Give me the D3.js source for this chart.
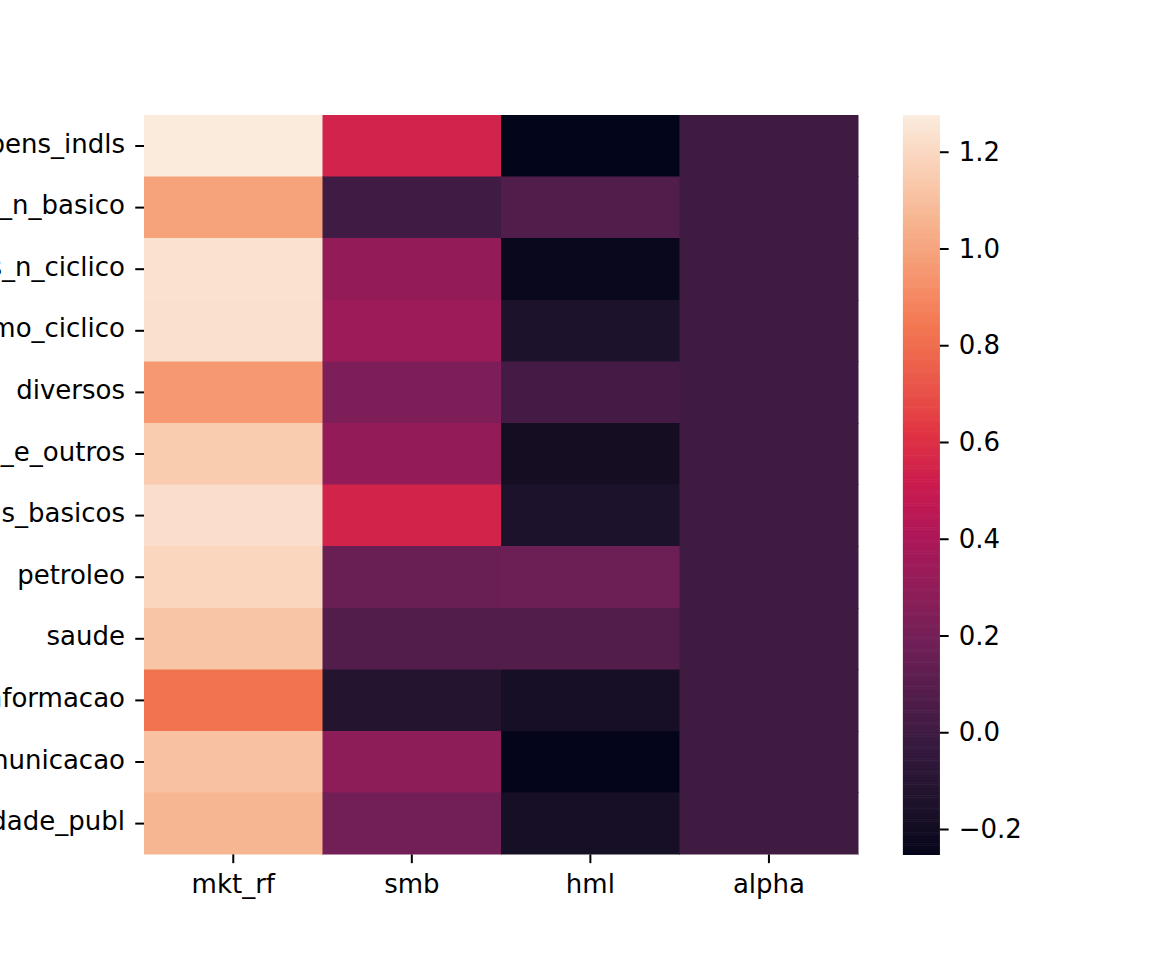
<!DOCTYPE html>
<html>
<head>
<meta charset="utf-8">
<script src="https://cdn.jsdelivr.net/npm/d3@7"></script>
<style>
  html, body { margin: 0; padding: 0; background: #fff; }
  svg { display: block; }
  .tick text { font-family: "DejaVu Sans", sans-serif; font-size: 26px; fill: #000; }
  .tick line { stroke: #000; stroke-width: 2px; }
</style>
</head>
<body>
<svg id="chart" width="1152" height="960"></svg>
<script>
// ---- data ----
const sectors = ["bens_indls", "cons_n_basico", "cons_n_ciclico", "consumo_ciclico",
  "diversos", "financ_e_outros", "materiais_basicos", "petroleo", "saude",
  "tecnologia_informacao", "telecomunicacao", "utilidade_publ"];
const factors = ["mkt_rf", "smb", "hml", "alpha"];
const mktRf = [1.2755, 0.99, 1.239, 1.235, 0.959, 1.149, 1.225, 1.192, 1.124, 0.829, 1.108, 1.067];
const smb   = [0.542, 0.007, 0.31, 0.342, 0.235, 0.31, 0.548, 0.162, 0.073, -0.113, 0.288, 0.19];
const hml   = [-0.2525, 0.069, -0.235, -0.147, 0.026, -0.191, -0.147, 0.168, 0.075, -0.182, -0.25, -0.182];
const alpha = [0.003, 0.002, 0.003, 0.003, 0.002, 0.003, 0.003, 0.002, 0.003, 0.003, 0.003, 0.003];
const cbTicks = [-0.2, 0.0, 0.2, 0.4, 0.6, 0.8, 1.0, 1.2];
// seaborn "rocket" colormap stops (position, colour)
const rocketPos = [0, 1 / 7, 2 / 7, 3 / 7, 0.5, 4 / 7, 5 / 7, 6 / 7, 1];
const rocketCol = ["#03051a", "#35193e", "#701f57", "#ad1759", "#cb1b4f", "#e13342", "#f37651", "#f6b48f", "#faebdd"];

const series = [mktRf, smb, hml, alpha];
const cells = [];
sectors.forEach((s, i) => factors.forEach((f, j) => cells.push({ s, f, v: series[j][i] })));

const all = series.flat();
const vmin = d3.min(all), vmax = d3.max(all);
const rocket = d3.scaleLinear().domain(rocketPos).range(rocketCol).interpolate(d3.interpolateLab).clamp(true);
const color = d3.scaleSequential(rocket).domain([vmin, vmax]);

const svg = d3.select("#chart");
const L = 144, R = 858.2, T = 115.2, B = 854.4;

const x = d3.scaleBand().domain(factors).range([L, R]);
const y = d3.scaleBand().domain(sectors).range([T, B]);

svg.append("g").selectAll("rect").data(cells).join("rect")
  .attr("x", d => x(d.f))
  .attr("y", d => y(d.s))
  .attr("width", x.bandwidth())
  .attr("height", y.bandwidth())
  .attr("fill", d => color(d.v))
  .attr("stroke", d => color(d.v))
  .attr("stroke-width", 0.5)
  .attr("shape-rendering", "crispEdges");

// axes
const yAxis = svg.append("g").attr("transform", `translate(${L},0)`)
  .call(d3.axisLeft(y).tickSize(8.75).tickPadding(8.75));
yAxis.select(".domain").remove();
yAxis.selectAll(".tick text").attr("dy", "6.6px").attr("x", -19);

const xAxis = svg.append("g").attr("transform", `translate(0,${B})`)
  .call(d3.axisBottom(x).tickSize(8.75).tickPadding(8.75));
xAxis.select(".domain").remove();
xAxis.selectAll(".tick text").attr("dy", null).attr("y", 38.5);

// colorbar
const cbL = 902.9, cbW = 37;
const cy = d3.scaleLinear().domain([vmin, vmax]).range([B, T]);
const nSteps = 400;
const steps = d3.range(nSteps).map(k => vmin + (vmax - vmin) * (k + 0.5) / nSteps);
const stepH = (B - T) / nSteps;
svg.append("g").selectAll("rect").data(steps).join("rect")
  .attr("x", cbL)
  .attr("y", d => cy(d) - stepH / 2)
  .attr("width", cbW)
  .attr("height", stepH + 0.6)
  .attr("fill", d => color(d));

const cAxis = svg.append("g").attr("transform", `translate(${cbL + cbW},0)`)
  .call(d3.axisRight(cy).tickValues(cbTicks).tickFormat(d3.format(".1f")).tickSize(8.75).tickPadding(10));
cAxis.select(".domain").remove();
cAxis.selectAll(".tick text").attr("dy", "8.6px");
</script>
</body>
</html>
